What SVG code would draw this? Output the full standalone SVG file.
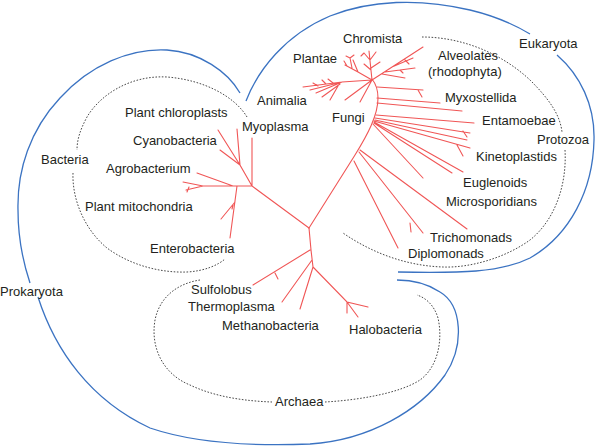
<svg xmlns="http://www.w3.org/2000/svg" width="596" height="446" viewBox="0 0 596 446">
<style>
.t{font-family:"Liberation Sans",Arial,sans-serif;font-size:13px;fill:#231f20}
.b{fill:none;stroke:#3b73c2;stroke-width:1.3}
.d{fill:none;stroke:#333;stroke-width:0.9;stroke-dasharray:1.6,1.6}
.r{fill:none;stroke:#f05656;stroke-width:1.1;stroke-linecap:round}
</style>
<rect width="596" height="446" fill="#fff"/>
<g id="domains">
<path class="b" d="M240,93 C228,72 200,52 167,50 C130,48 90,65 60,98 C30,130 17,170 18,210 C18,240 24,265 30,283"/>
<path class="b" d="M38,297 C55,350 90,400 150,428 C200,445 260,446 310,444 C370,440 420,410 445,375 C465,345 462,305 440,292 C428,284 412,280 397,280"/>
<path class="b" d="M246,101 C258,70 285,35 330,16 C370,0 420,-2 470,10 C495,16 515,25 530,34"/>
<path class="b" d="M557,55 C580,75 595,105 594,140 C593,190 570,235 530,258 C500,273 460,273 398,272"/>
<path class="d" d="M247,117 C235,97 205,80 167,77 C130,75 100,95 87,117 C80,130 77,140 77,150"/>
<path class="d" d="M73,173 C72,200 85,230 107,248 C130,265 160,273 187,272 C205,271 218,265 225,259"/>
<path class="d" d="M200,280 C180,283 160,295 155,320 C150,350 165,375 190,385 C215,397 245,401 272,402"/>
<path class="d" d="M325,402 C360,400 400,393 420,380 C438,367 443,340 438,318 C434,305 426,298 417,295"/>
<path class="d" d="M422,37 C460,37 500,52 530,80 C550,100 560,115 562,132"/>
<path class="d" d="M565,150 C567,185 555,220 530,240 C505,258 470,268 443,267 C410,266 375,255 343,233"/>
</g>
<g id="connectors">
<!-- bacteria -->
<path class="r" d="M309,228 L252,186 L252,138 M252,186 L240,165 L237,129 M240,165 L218,130 M240,165 L220,150 M252,186 L203,186 L183,182 M203,186 L186,190 M189,187 L187,192 M233,186 L197,173 M237,186 L230,238 M235,202 L221,219 M233,205 L232,209"/>
<!-- archaea -->
<path class="r" d="M309,228 L311,250 L313,267 M310,250 L253,285 M275,273 L278,279 M312,260 L282,302 M313,267 L300,309 M313,267 L347,302 L368,307 M347,302 L358,317 M347,302 L347,313"/>
<!-- eukaryote trunk -->
<path class="r" d="M309,228 L355,155 C368,134 378,115 378,98 C378,90 376,84 372,79"/>
<path class="r" d="M360,150 L467,229 M359,152 L423,233 M410,223 L411,232 M354,161 L398,248"/>
<path class="r" d="M377,87 L423,90 M418,90 L422,97 M377,98 L440,103 M377,103 L462,111 M376,115 L474,123 M375,118 L470,133 M463,131 L467,137 M375,120 L467,140 M374,121 L470,148 M457,145 L463,156 M374,122 L463,172 M374,123 L452,173 M373,124 L423,178"/>
<!-- hub clusters -->
<path class="r" d="M372,80 L342,82 L303,87 M342,82 L310,90 M342,82 L316,93 M340,84 L322,97 M338,86 L330,100 M326,84 L322,80 M318,86 L313,83 M333,83 L328,79 M372,80 L345,100 M372,80 L360,102"/>
<path class="r" d="M372,80 L358,72 L345,65 M352,68 L350,58 M358,72 L353,60 M350,58 L346,56 M350,58 L354,55 M347,66 L344,61"/>
<path class="r" d="M372,80 L369,51 M370,60 L364,53 M370,60 L376,52 M371,68 L380,62 M371,70 L364,64 M364,53 L361,56"/>
<path class="r" d="M372,80 L423,47 M385,72 L415,68 M392,67 L413,58 M382,74 L405,78 M405,60 L409,64 M400,70 L403,73"/>
</g>
<g id="labels">
<text class="t" x="0" y="296">Prokaryota</text>
<text class="t" x="519" y="48">Eukaryota</text>
<text class="t" x="41" y="164">Bacteria</text>
<text class="t" x="275" y="406">Archaea</text>
<text class="t" x="537" y="144">Protozoa</text>
</g>
<g id="bacteria">
<text class="t" x="125" y="117">Plant chloroplasts</text>
<text class="t" x="133" y="145">Cyanobacteria</text>
<text class="t" x="106" y="173">Agrobacterium</text>
<text class="t" x="85" y="211">Plant mitochondria</text>
<text class="t" x="150" y="253">Enterobacteria</text>
<text class="t" x="242" y="131">Myoplasma</text>
</g>
<g id="archaea">
<text class="t" x="191" y="294">Sulfolobus</text>
<text class="t" x="188" y="311">Thermoplasma</text>
<text class="t" x="222" y="330">Methanobacteria</text>
<text class="t" x="349" y="334">Halobacteria</text>
</g>
<g id="eukarya">
<text class="t" x="257" y="105">Animalia</text>
<text class="t" x="293" y="63">Plantae</text>
<text class="t" x="343" y="43">Chromista</text>
<text class="t" x="332" y="122">Fungi</text>
<text class="t" x="438" y="60">Alveolates</text>
<text class="t" x="428" y="76">(rhodophyta)</text>
<text class="t" x="445" y="102">Myxostellida</text>
<text class="t" x="482" y="125">Entamoebae</text>
<text class="t" x="476" y="161">Kinetoplastids</text>
<text class="t" x="463" y="187">Euglenoids</text>
<text class="t" x="446" y="206">Microsporidians</text>
<text class="t" x="430" y="242">Trichomonads</text>
<text class="t" x="408" y="258">Diplomonads</text>
</g>
</svg>
